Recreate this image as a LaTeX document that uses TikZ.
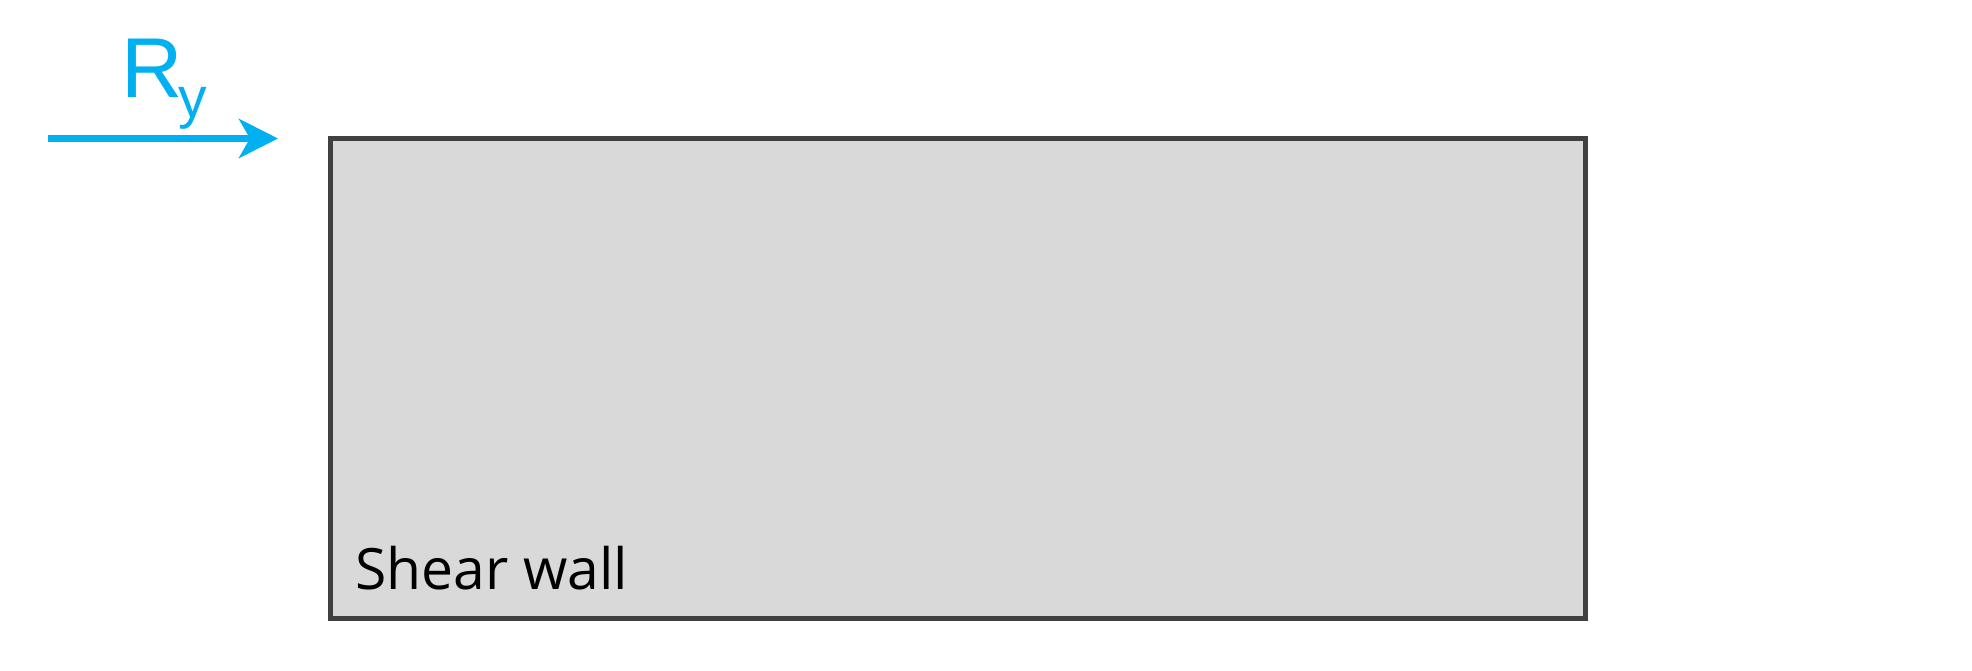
\documentclass[tikz,border=0pt]{standalone}
\usepackage{fontspec}
\setmainfont{Open Sans}
\newfontfamily\arialfont{Liberation Sans}
\usetikzlibrary{arrows.meta}
\definecolor{wallfill}{HTML}{D9D9D9}
\definecolor{wallline}{HTML}{404040}
\definecolor{loadblue}{HTML}{00B0F0}
\tikzset{
  wallbox/.style={draw=wallline, fill=wallfill, line width=5pt, rectangle, inner sep=0pt, outer sep=0pt},
  loadarrow/.style={draw=loadblue, line width=7pt, -{Stealth[length=39pt,width=39pt,inset=11pt]}},
  loadlabel/.style={text=loadblue, inner sep=0pt, anchor=base west, font=\arialfont\fontsize{85}{85}\selectfont},
  walllabel/.style={text=black, inner sep=0pt, anchor=base west, font=\fontsize{57}{57}\selectfont}
}
\begin{document}
\begin{tikzpicture}[x=1pt,y=-1pt]
\useasboundingbox (0,0) rectangle (1972,671);
\node[wallbox, minimum width=1255pt, minimum height=480pt, anchor=north west] (wall) at (330.5,138.5) {};
\node[walllabel] (wlabel) at (355,589) {Shear wall};
\coordinate (astart) at (48,138.5);
\coordinate (aend) at (278,138.5);
\draw[loadarrow] (astart) -- (aend);
\node[loadlabel] (rlabel) at (121,98) {R\kern-4pt\raisebox{-20pt}{\fontsize{57}{57}\selectfont y}};
\end{tikzpicture}
\end{document}
